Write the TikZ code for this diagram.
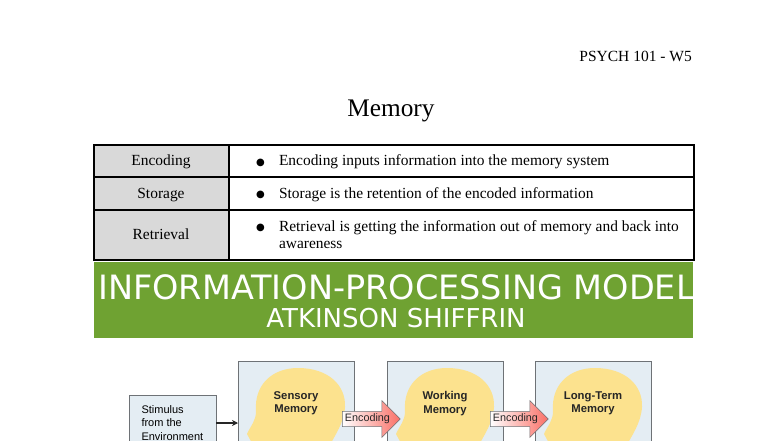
\documentclass[tikz,border=0pt]{standalone}
\usepackage{fontspec}
\setmainfont{Liberation Serif}
\newfontfamily\headfont{DejaVu Sans}
\newfontfamily\modelfont{Liberation Sans}
\usetikzlibrary{calc,positioning,shapes.arrows,arrows.meta}

\newcommand{\cellbullet}{\hspace*{19.5pt}\makebox[23pt][l]{\raisebox{0.8pt}{\headfont\fontsize{10}{10}\selectfont ●}}}

\begin{document}
\begin{tikzpicture}[
    x=1pt, y=-1pt,
    node distance=0pt,
    align=center,
    % table
    cell/.style={rectangle, draw=black, line width=2pt, outer sep=0pt, inner sep=0pt, font=\fontsize{15.45}{17}\selectfont},
    lowtext/.style={text height=13pt, text depth=2.2pt},
    termcell/.style={cell, fill=black!15, minimum width=135pt},
    textcell/.style={cell, fill=white, minimum width=465pt, text width=449pt, align=flush left},
    % model
    banner/.style={rectangle, fill=bannergreen, minimum width=599pt, minimum height=76pt, inner sep=0pt},
    membox/.style={rectangle, draw=boxgray, line width=0.8pt, fill=boxblue, minimum width=116pt, minimum height=100pt, inner sep=0pt, outer sep=0pt},
    memtitle/.style={font=\modelfont\bfseries\fontsize{11.3}{13.5}\selectfont, text=black!85},
    encarrow/.style={single arrow, draw=boxgray, line width=0.5pt, left color=white, right color=arrowred, minimum height=58pt, minimum width=37pt, single arrow head extend=9pt, single arrow head indent=0pt, inner xsep=0pt, inner ysep=1pt, font=\modelfont\fontsize{10.8}{12}\selectfont, text=black!85},
    flow/.style={-{Stealth[length=6pt,width=6pt]}, line width=1.2pt, black!85},
    % head seen from the side, origin at the top left of its box
    head/.pic={
      \fill[headyellow] (15,110) -- (15,84) -- (9,73) .. controls (13,64) and (18,60) .. (18,50)
        .. controls (16,24) and (34,7) .. (60,7) .. controls (90,7) and (108,24) .. (107,46)
        .. controls (106,62) and (97,74) .. (92,84) -- (92,110) -- cycle;
    }
  ]

  \definecolor{bannergreen}{HTML}{6FA232}
  \definecolor{boxblue}{HTML}{E4EDF3}
  \definecolor{boxgray}{HTML}{6E7276}
  \definecolor{headyellow}{HTML}{FCE28E}
  \definecolor{arrowred}{HTML}{FA6F66}

  \clip (0,0) rectangle (784,441);

  \node (course) [anchor=east, inner sep=0pt, font=\fontsize{15.5}{17}\selectfont] at (692,56) {PSYCH 101 - W5};
  \node (title)  [font=\fontsize{25.3}{28}\selectfont] at (391,110.5)         {Memory};

  \node (encoding)     [termcell, lowtext, minimum height=32pt, anchor=north west] at (93.5,144.5) {Encoding};
  \node (storage)      [termcell, lowtext, minimum height=33pt, below=of encoding]                 {Storage};
  \node (retrieval)    [termcell, minimum height=50pt, below=of storage]                           {Retrieval};

  \node (encodingtext)  [textcell, lowtext, minimum height=32pt, right=of encoding] {\cellbullet Encoding inputs information into the memory system};
  \node (storagetext)   [textcell, lowtext, minimum height=33pt, right=of storage]  {\cellbullet Storage is the retention of the encoded information};
  \node (retrievaltext) [textcell, minimum height=50pt, right=of retrieval]         {\cellbullet Retrieval is getting the information out of memory and back into\\
                                                                                     \hspace*{42.5pt}awareness};

  \node (model) [banner, anchor=north west] at (94,262) {};
  \node (modelname)  [text=white, font=\headfont\fontsize{33.5}{36}\selectfont] at (396.5,287) {INFORMATION-PROCESSING MODEL};
  \node (modelsub)   [text=white, font=\headfont\fontsize{26}{28}\selectfont]   at (396,318) {ATKINSON SHIFFRIN};

  \node (stimulus) [membox, minimum width=87pt, minimum height=56pt, anchor=north west] at (129,395)
                   {\parbox{62pt}{\modelfont\fontsize{11}{13.2}\selectfont Stimulus\\from the\\Environment}};

  \node (sensory)  [membox, anchor=north west] at (238,361) {};
  \node (working)  [membox, anchor=north west] at (387,361) {};
  \node (longterm) [membox, anchor=north west] at (535,361) {};

  \pic at (sensory.north west)  {head};
  \pic at (working.north west)  {head};
  \pic at (longterm.north west) {head};

  \node (sensorytitle)  [memtitle, below=27pt of sensory.north]          {Sensory\\Memory};
  \node (workingtitle)  [memtitle, below=27pt of working.north]          {Working\\Memory};
  \node (longtermtitle) [memtitle, below=27pt of longterm.north]         {Long-Term\\Memory};

  \node (encodeone) [encarrow, anchor=west] at (342,419) {Encoding};
  \node (encodetwo) [encarrow, anchor=west] at (490,419) {Encoding};

  \draw[flow] (stimulus) -- (stimulus -| sensory.west);
\end{tikzpicture}
\end{document}
